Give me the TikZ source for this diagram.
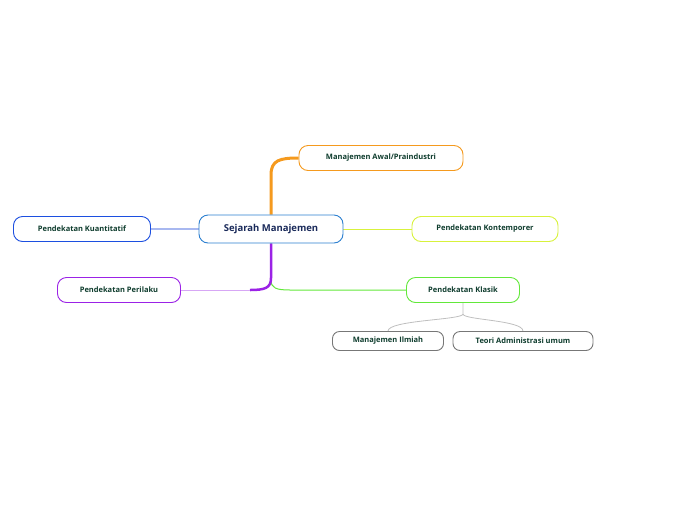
\documentclass[tikz,border=0pt]{standalone}
\usepackage{fontspec}
\setmainfont{Open Sans}
\usetikzlibrary{backgrounds}
\definecolor{txt}{HTML}{0F3D2E}
\definecolor{cNavy}{HTML}{1A2A5A}
\definecolor{cBlue}{HTML}{2B7FD0}
\definecolor{cOr}{HTML}{F59A1E}
\definecolor{cYe}{HTML}{D8F23C}
\definecolor{cGr}{HTML}{62E83A}
\definecolor{cPu}{HTML}{9B22E6}
\definecolor{cKb}{HTML}{1C4FE0}
\definecolor{cLb}{HTML}{A8B8F0}
\definecolor{cGy}{HTML}{777777}
\begin{document}
\begin{tikzpicture}[x=1pt,y=-1pt,
 box/.style={draw,rounded corners=9pt,line width=0.9pt,fill=white,font=\bfseries\fontsize{7.5}{9}\selectfont,text=txt,inner sep=0pt},
 ]
\useasboundingbox (0,0) rectangle (696,520);
\node[box,draw=cBlue,minimum width=144pt,minimum height=28pt,font=\bfseries\fontsize{9.5}{11}\selectfont,text=cNavy] (c) at (271,229) {Sejarah Manajemen};
\node[box,draw=cOr,minimum width=164pt,minimum height=25pt] (a) at (381,158) {Manajemen Awal/Praindustri};
\node[box,draw=cYe,minimum width=146pt,minimum height=25pt] (k) at (485,229) {Pendekatan Kontemporer};
\node[box,draw=cGr,minimum width=113pt,minimum height=25pt] (kl) at (463,290) {Pendekatan Klasik};
\node[box,draw=cKb,minimum width=137pt,minimum height=25pt] (q) at (82,229) {Pendekatan Kuantitatif};
\node[box,draw=cPu,minimum width=123pt,minimum height=25pt] (p) at (119,290) {Pendekatan Perilaku};
\node[box,draw=cGy,minimum width=111pt,minimum height=19pt,rounded corners=7pt] (i) at (388,341) {Manajemen Ilmiah};
\node[box,draw=cGy,minimum width=140pt,minimum height=19pt,rounded corners=7pt] (t) at (523,341) {Teori Administrasi umum};
\begin{scope}[on background layer]
\draw[cOr,line width=3pt] (c.north) -- (271,175) .. controls (271,160) and (280,158) .. (a.west);
\draw[cPu!40,line width=0.8pt] (250,290) -- (p.east);
\draw[cGr,line width=1pt] (c.south) -- (271,280) .. controls (271,288) and (276,290) .. (290,290) -- (kl.west);
\draw[cPu,line width=2.5pt] (c.south) -- (271,278) .. controls (271,288) and (265,290) .. (250,290);
\draw[cLb,line width=1.2pt] (q.east) -- (c.west);
\draw[cYe,line width=1pt] (c.east) -- (k.west);
\draw[gray!50,line width=0.8pt] (kl.south) -- (463,314) .. controls (463,320) and (388,320) .. (i.north);
\draw[gray!50,line width=0.8pt] (463,314) .. controls (463,320) and (523,320) .. (t.north);
\end{scope}
\end{tikzpicture}
\end{document}
